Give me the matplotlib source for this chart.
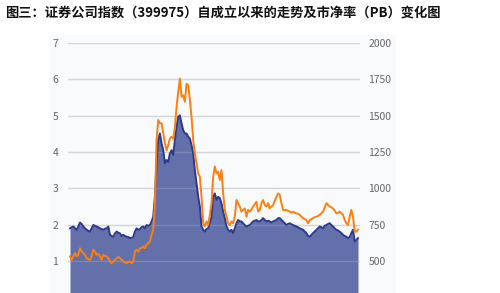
import matplotlib.pyplot as plt
from matplotlib.patches import Rectangle

plt.rcParams['font.family'] = ['Noto Sans CJK SC', 'DejaVu Sans']

title = "图三：证券公司指数（399975）自成立以来的走势及市净率（PB）变化图"

# 市净率 PB (left axis), sampled along the time axis
pb = [1.90, 1.93, 1.95, 1.90, 1.86, 1.95, 2.06, 2.02, 1.95, 1.90,
      1.86, 1.83, 1.81, 1.90, 1.99, 1.97, 1.95, 1.93, 1.90, 1.88,
      1.86, 1.89, 1.90, 1.95, 1.72, 1.69, 1.67, 1.76, 1.81, 1.78,
      1.76, 1.69, 1.72, 1.69, 1.67, 1.66, 1.63, 1.64, 1.66, 1.81,
      1.90, 1.86, 1.88, 1.93, 1.95, 1.90, 1.99, 1.97, 1.99, 2.09,
      2.22, 2.77, 3.69, 4.33, 4.51, 4.24, 4.05, 3.69, 3.78, 3.73,
      3.96, 4.05, 3.92, 4.33, 4.69, 4.97, 5.01, 4.79, 4.60, 4.51,
      4.51, 4.42, 4.37, 4.19, 3.96, 3.50, 3.14, 2.77, 2.50, 1.95,
      1.86, 1.81, 1.88, 1.90, 2.04, 2.22, 2.77, 2.86, 2.68, 2.77,
      2.73, 2.59, 2.36, 2.18, 1.95, 1.86, 1.81, 1.86, 1.77, 1.90,
      2.04, 2.13, 2.09,
      2.09, 2.04, 1.99, 1.95, 1.97, 1.99, 2.04, 2.09, 2.11, 2.13,
      2.09, 2.09, 2.13, 2.18, 2.13, 2.09, 2.11, 2.09, 2.06, 2.09,
      2.11, 2.13, 2.18, 2.18, 2.13, 2.09, 2.04, 1.99, 2.02, 2.04,
      2.01, 1.99, 1.97, 1.95, 1.93, 1.90, 1.88, 1.86, 1.81, 1.77,
      1.69, 1.67, 1.72, 1.77, 1.81, 1.86, 1.90, 1.95, 1.93, 1.90,
      1.97, 1.99, 2.02, 2.04, 1.99, 1.95, 1.90, 1.86, 1.84, 1.81,
      1.77, 1.72, 1.69, 1.67, 1.63, 1.66, 1.77, 1.86, 1.54, 1.58,
      1.63]

# 证券公司指数 399975 (right axis)
index_val = [532, 508, 532, 555, 532, 542, 588, 565, 555, 542,
             520, 512, 508, 532, 578, 565, 542, 550, 532, 508,
             542, 535, 532, 520, 498, 485, 498, 508, 520, 528,
             520, 508, 498, 490, 485, 492, 498, 485, 498, 565,
             578, 565, 588, 588, 600, 588, 612, 622, 635, 680,
             715, 898, 1332, 1470, 1448, 1448, 1378, 1310, 1262, 1298,
             1342, 1355, 1342, 1422, 1560, 1662, 1755, 1630, 1640, 1595,
             1720, 1710, 1608, 1492, 1332, 1240, 1172, 1102, 1080, 942,
             760, 738, 772, 748, 818, 898, 1080, 1150, 1102, 1115,
             1058, 1125, 965, 852, 805, 760, 748, 772, 760, 805,
             920, 898, 875,
             840, 852, 862, 805, 852, 840, 855, 875, 892, 908,
             840, 852, 898, 920, 885, 875, 898, 862, 875, 885,
             915, 942, 965, 955, 898, 852, 848, 852, 845, 840,
             832, 840, 832, 828, 825, 818, 805, 795, 788, 782,
             760, 782, 788, 795, 802, 805, 810, 818, 828, 840,
             870, 898, 885, 875, 870, 862, 848, 828, 832, 840,
             828, 818, 782, 760, 748, 805, 852, 805, 702, 702,
             715]

t = list(range(len(pb)))

left_ticks = [1, 2, 3, 4, 5, 6, 7]
right_ticks = [500, 750, 1000, 1250, 1500, 1750, 2000]

fig = plt.figure(figsize=(5, 2.93), dpi=100)
fig.patches.append(Rectangle((50 / 500, 0), 346 / 500, 1 - 35 / 293,
                             transform=fig.transFigure, facecolor='#f9fafc',
                             edgecolor='none', zorder=-5))
fig.text(0.01, 1 - 13 / 293, title, fontsize=9.5, fontweight='bold',
         va='center', ha='left', color='#111111')

ax1 = fig.add_axes([68 / 500, 0, 292 / 500, 1 - 43 / 293])
ax1.set_facecolor('none')
# grid under the area, and a faint copy showing through it
for v in left_ticks:
    ax1.axhline(v, color='#d8dadd', linewidth=1, zorder=1)
ax1.fill_between(t, 0, pb, color='#6370aa', zorder=2, linewidth=0)
for v in left_ticks:
    ax1.axhline(v, color='#c8ccd8', linewidth=1, alpha=0.25, zorder=2.5)
ax1.plot(t, pb, color='#2b3a8f', linewidth=1.4, zorder=3)
ax1.set_ylim(0.12, 7)
ax1.set_xlim(-1.2, len(pb) - 1 + 1.2)
ax1.set_yticks(left_ticks)
ax1.set_xticks([])
ax1.tick_params(axis='y', length=0, pad=7, labelsize=7.5, labelcolor='#666666')

ax2 = ax1.twinx()
ax2.plot(t, index_val, color='#ff7f0e', linewidth=1.4, zorder=4)
ax2.set_ylim(250 + 250 * 0.12, 2000)
ax2.set_yticks(right_ticks)
ax2.tick_params(axis='y', length=0, pad=6, labelsize=7.5, labelcolor='#666666')

for a in (ax1, ax2):
    for s in a.spines.values():
        s.set_visible(False)

fig.savefig('out.png', dpi=100)
